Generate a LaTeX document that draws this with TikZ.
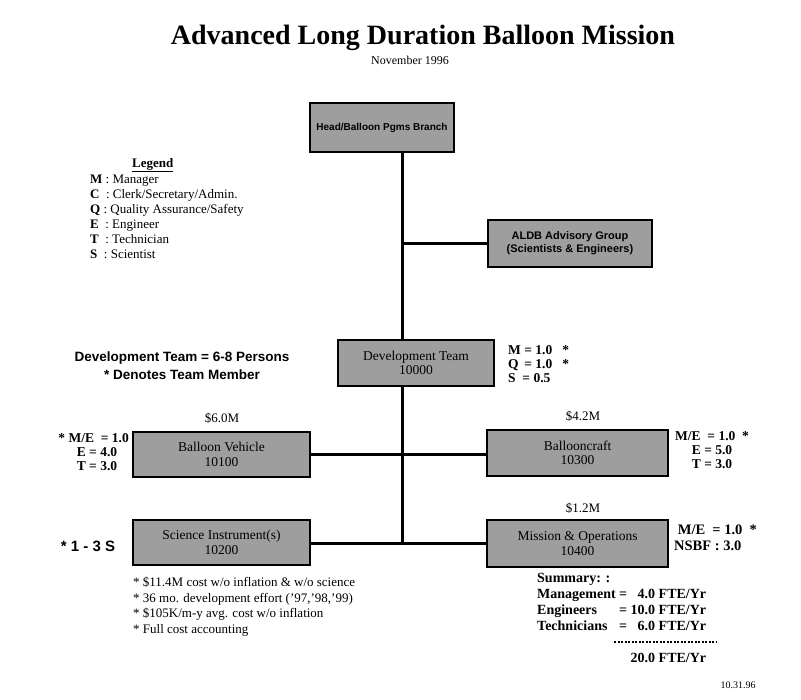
\documentclass[tikz,border=0pt]{standalone}
\usepackage{fontspec}
\setmainfont{Liberation Serif}
\setsansfont{Liberation Sans}
\begin{document}
\begin{tikzpicture}[x=1pt,y=-1pt,
  box/.style={draw=black,line width=1.6pt,fill=black!38,minimum height=46pt,align=center,font=\fontsize{13.5}{14.5}\selectfont,inner sep=0pt},
  link/.style={line width=3pt},
  lbl/.style={font=\bfseries\fontsize{13.5}{14}\selectfont,align=left,inner sep=0pt},
  txt/.style={font=\fontsize{13}{14}\selectfont,inner sep=0pt}]
\useasboundingbox (0,0) rectangle (801,700);
\node[font=\bfseries\fontsize{28}{30}\selectfont,inner sep=0pt] (title) at (423,38) {Advanced Long Duration Balloon Mission};
\node[txt,font=\fontsize{12}{14}\selectfont] (date) at (410,60) {November 1996};
\node[box,minimum width=144pt,minimum height=49pt,font=\sffamily\bfseries\fontsize{10}{12}\selectfont] (head) at (382,127.5) {Head/Balloon Pgms Branch};
\node[box,minimum width=164pt,minimum height=47pt,font=\sffamily\bfseries\fontsize{11}{13}\selectfont] (aldb) at (570,243.5) {ALDB Advisory Group\\(Scientists \& Engineers)};
\node[box,minimum width=156pt] (dev) at (416,363) {Development Team\\10000};
\node[box,minimum width=177pt,minimum height=45pt] (bv) at (221.5,454.5) {Balloon Vehicle\\10100};
\node[box,minimum width=181pt] (bc) at (577.5,453) {Ballooncraft\\10300};
\node[box,minimum width=177pt,minimum height=45pt] (si) at (221.5,542.5) {Science Instrument(s)\\10200};
\node[box,minimum width=181pt,minimum height=47pt] (mo) at (577.5,543.5) {Mission \& Operations\\10400};
\coordinate (t1) at (402,152);
\coordinate (t2) at (402,340);
\coordinate (t3) at (402,386);
\coordinate (j1) at (402,243.5);
\coordinate (j3) at (402,543);
\draw[link] (t1) -- (t2);
\draw[link] (j1) -- (aldb.west);
\draw[link] (t3) -- (j3);
\draw[link] (bv.east |- 0,455) -- (bc.west |- 0,455);
\draw[link] (si.east |- 0,543) -- (mo.west |- 0,543);
% legend
\node[font=\bfseries\fontsize{13}{14}\selectfont,inner sep=0pt,anchor=west] (leg) at (132,165) {\underline{Legend}};
\node[txt,anchor=north west,align=left,font=\fontsize{13}{15}\selectfont] (legitems) at (90,175) {%
\textbf{M} : Manager\\ \textbf{C} \ : Clerk/Secretary/Admin.\\ \textbf{Q} : Quality Assurance/Safety\\ \textbf{E} \ : Engineer\\ \textbf{T} \ : Technician\\ \textbf{S} \ : Scientist};
\node[font=\sffamily\bfseries\fontsize{13.5}{18}\selectfont,align=center,inner sep=0pt] (devnote) at (182,366) {Development Team = 6-8 Persons\\* Denotes Team Member};
\node[lbl,anchor=north west] (devr) at (508,345) {M = 1.0 \ \ *\\Q \,= 1.0 \ \ *\\S \ = 0.5};
\node[txt] (c1) at (222,418) {\$6.0M};
\node[txt] (c2) at (583,416) {\$4.2M};
\node[txt] (c3) at (583,508) {\$1.2M};
\node[lbl,anchor=north east,align=center] (bvl) at (129,433) {* M/E \ = 1.0\\ \ \ E = 4.0\\ \ \ T = 3.0};
\node[lbl,anchor=north west,align=center] (bcr) at (675,431) {M/E \ = 1.0 \ *\\E = 5.0\\T = 3.0};
\node[font=\sffamily\bfseries\fontsize{15}{16}\selectfont,inner sep=0pt] (sil) at (88,546) {* 1 - 3 S};
\node[lbl,anchor=north west,font=\bfseries\fontsize{14.5}{15.5}\selectfont] (mor) at (674,525) {\ M/E \ = 1.0 \ *\\NSBF : 3.0};
\node[txt,anchor=north west,align=left,font=\fontsize{13}{15.5}\selectfont] (notes) at (133,577) {%
* \$11.4M cost w/o inflation \& w/o science\\* 36 mo. development effort ('97,'98,'99)\\* \$105K/m-y avg. cost w/o inflation\\* Full cost accounting};
\node[lbl,anchor=north west,font=\bfseries\fontsize{14}{16}\selectfont] (sum) at (537,571) {%
\begin{tabular}{@{}l@{\ }c@{\ }r@{}}
\multicolumn{3}{@{}l}{Summary: :}\\
Management &= & 4.0 FTE/Yr\\
Engineers &= & 10.0 FTE/Yr\\
Technicians &= & 6.0 FTE/Yr\\[16pt]
\multicolumn{3}{r@{}}{20.0 FTE/Yr}
\end{tabular}};
\coordinate (d1) at (614,642);
\coordinate (d2) at (716,642);
\draw[dash pattern=on 2pt off 1.5pt,line width=1.2pt] (d1) -- (d2);
\node[txt,font=\fontsize{10}{12}\selectfont] (stamp) at (738,685) {10.31.96};
\end{tikzpicture}
\end{document}
